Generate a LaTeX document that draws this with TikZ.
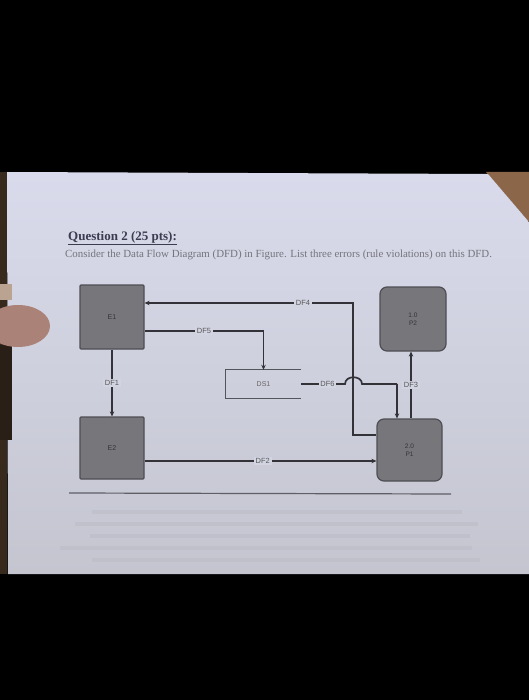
\documentclass[tikz,border=0pt]{standalone}
\usepackage{fontspec}
\setmainfont{Liberation Serif}
\newfontfamily\labelfont{Liberation Sans}
\usetikzlibrary{arrows.meta}
\definecolor{papertop}{RGB}{217,219,236}
\definecolor{paperbot}{RGB}{196,197,207}
\definecolor{papermid}{RGB}{210,212,226}
\definecolor{boxfill}{RGB}{118,118,123}
\definecolor{boxline}{RGB}{78,78,84}
\definecolor{inkline}{RGB}{50,50,56}
\definecolor{wood}{RGB}{140,102,72}
\definecolor{skin}{RGB}{170,130,120}
\definecolor{inktext}{RGB}{60,60,80}
\tikzset{
  entity/.style={draw=boxline, line width=1.2pt, fill=boxfill, rounded corners=1pt,
    font=\labelfont\fontsize{7}{8}\selectfont, text=black!55!boxfill},
  process/.style={draw=boxline, line width=1.2pt, fill=boxfill, rounded corners=7pt,
    font=\labelfont\fontsize{6.5}{7.5}\selectfont, text=black!55!boxfill, align=center},
  storenode/.style={font=\labelfont\fontsize{7}{8}\selectfont, text=black!60,
    minimum width=75pt, minimum height=28pt, inner sep=0pt},
  store/.style={draw=black!60!papermid, line width=1pt},
  flow/.style={draw=inkline, line width=1.7pt},
  tipin/.style={-{Stealth[length=5pt,width=4.5pt]}},
  tipout/.style={{Stealth[length=5pt,width=4.5pt]}-},
  lab/.style={fill=papermid, inner sep=1.8pt, text=black!65,
    font=\labelfont\fontsize{7.5}{8}\selectfont},
}
\begin{document}
\begin{tikzpicture}[x=1pt,y=-1pt]
\useasboundingbox (0,0) rectangle (529,700);
% background
\fill[black] (0,0) rectangle (529,700);
\fill[wood] (486,172) -- (529,172) -- (529,222) -- cycle;
\shade[top color=papertop, bottom color=paperbot]
  (7,172) -- (488,174) -- (529,222) -- (529,574) -- (8,574) -- cycle;
% left edge and finger
\fill[black!60!wood] (0,172) rectangle (7,574);
\fill[wood!60!white] (0,284) rectangle (12,300);
\fill[black!70!wood] (0,345) rectangle (12,440);
\fill[skin] (18,326) ellipse [x radius=32, y radius=21];
% faint text below the rule
\foreach \yy/\xa/\xb in {512/92/462,524/75/478,536/90/470,548/60/472,560/92/480}
  \fill[black!5!paperbot, opacity=.5] (\xa,\yy-2) rectangle (\xb,\yy+2);
% heading
\node[font=\bfseries\fontsize{13}{15}\selectfont, text=inktext, inner sep=0pt, anchor=west] (title) at (68,238)
  {\underline{Question 2 (25 pts):}};
\node[font=\fontsize{10.9}{12}\selectfont, text=black!45!papermid, inner sep=0pt, anchor=west] (intro) at (65,255)
  {Consider the Data Flow Diagram (DFD) in Figure. List three errors (rule violations) on this DFD.};
% nodes
\node[entity, minimum width=64pt, minimum height=64pt] (E1) at (112,317) {E1};
\node[entity, minimum width=64pt, minimum height=62pt] (E2) at (112,448) {E2};
\node[process, minimum width=66pt, minimum height=64pt] (P2) at (413,319) {1.0\\P2};
\node[process, minimum width=65pt, minimum height=62pt] (P1) at (409.5,450) {2.0\\P1};
\node[storenode] (DS1) at (263.5,384) {DS1};
\draw[store] (DS1.north east) -- (DS1.north west) -- (DS1.south west) -- (DS1.south east);
% waypoints
\coordinate (c4) at (353,303);
\coordinate (h1) at (345,384);
\coordinate (h2) at (362,384);
\coordinate (h3) at (397,384);
% flows
\draw[flow, tipout] ([yshift=14pt]E1.east) -- node[lab, pos=0.76] {DF4} (c4) |- ([yshift=15pt]P1.west);
\draw[flow, tipin] ([yshift=-14pt]E1.east) -| node[lab, pos=0.25] {DF5} (DS1.north);
\draw[flow, tipin] (E1.south) -- node[lab] {DF1} (E2.north);
\draw[flow, tipin] ([yshift=-13pt]E2.east) -- node[lab, pos=0.51] {DF2} ([yshift=-13pt]E2.east -| P1.west);
\draw[flow, tipout] ([xshift=-2pt]P2.south) -- node[lab] {DF3} ([xshift=-2pt]P2.south |- P1.north);
\draw[flow] (DS1.east) -- node[lab, pos=0.6] {DF6} (h1)
  .. controls (345,375) and (362,375) .. (h2) -- (h3);
\draw[flow, tipin] (h3) -- (h3 |- P1.north);
% rule
\draw[line width=1.2pt, draw=black!55!papermid] (69,493) -- (451,494);
\end{tikzpicture}
\end{document}
